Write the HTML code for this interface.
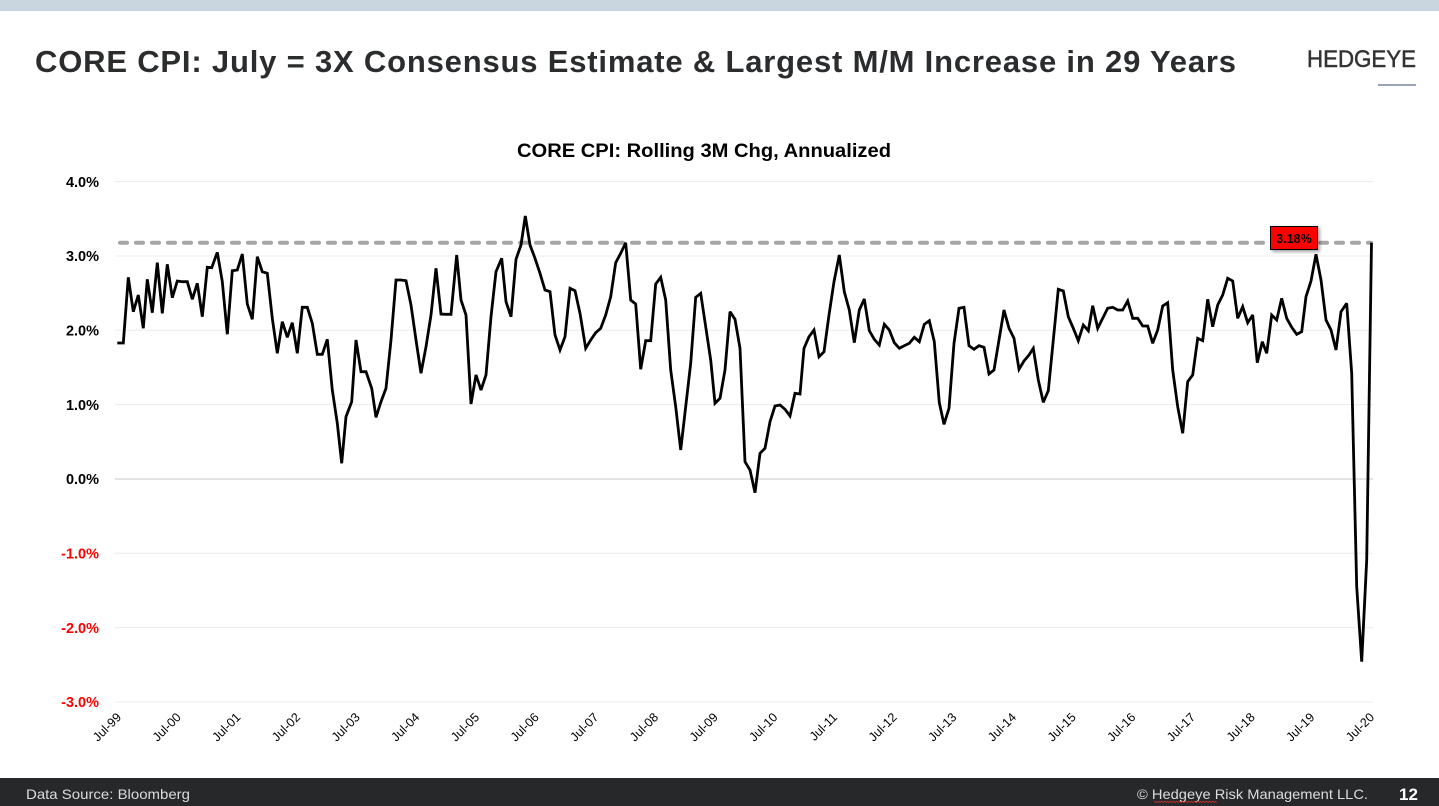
<!DOCTYPE html>
<html>
<head>
<meta charset="utf-8">
<style>
  html, body { margin:0; padding:0; background:#ffffff; }
  body { width:1439px; height:806px; overflow:hidden; }
  svg { display:block; }
</style>
</head>
<body>
<svg width="1439" height="806" viewBox="0 0 1439 806" xmlns="http://www.w3.org/2000/svg">
  <defs>
    <filter id="sh" x="-30%" y="-30%" width="160%" height="160%">
      <feDropShadow dx="2" dy="2" stdDeviation="1.5" flood-color="#000" flood-opacity="0.35"/>
    </filter>
  </defs>
  <!-- top band -->
  <rect x="0" y="0" width="1439" height="11" fill="#c9d6df"/>

  <!-- title -->
  <text x="35" y="72" font-family="Liberation Sans, sans-serif" font-weight="bold" font-size="31" fill="#2a2c2e" textLength="1201" lengthAdjust="spacing">CORE CPI: July = 3X Consensus Estimate &amp; Largest M/M Increase in 29 Years</text>

  <!-- logo -->
  <text x="1307" y="67" font-family="Liberation Sans, sans-serif" font-size="24" fill="#333" stroke="#333" stroke-width="0.5" textLength="109" lengthAdjust="spacingAndGlyphs">HEDGEYE</text>
  <rect x="1378" y="84" width="38" height="2" fill="#9aa3b8"/>

  <!-- chart title -->
  <text x="704" y="157" text-anchor="middle" font-family="Liberation Sans, sans-serif" font-weight="bold" font-size="19" fill="#000" textLength="374" lengthAdjust="spacingAndGlyphs">CORE CPI: Rolling 3M Chg, Annualized</text>

  <!-- gridlines -->
  <g stroke="#ececec" stroke-width="1">
    <line x1="115" y1="181.5" x2="1373" y2="181.5"/>
    <line x1="115" y1="256" x2="1373" y2="256"/>
    <line x1="115" y1="330.3" x2="1373" y2="330.3"/>
    <line x1="115" y1="404.6" x2="1373" y2="404.6"/>
    <line x1="115" y1="553.3" x2="1373" y2="553.3"/>
    <line x1="115" y1="627.6" x2="1373" y2="627.6"/>
    <line x1="115" y1="702" x2="1373" y2="702"/>
  </g>
  <line x1="115" y1="479" x2="1373" y2="479" stroke="#d4d4d4" stroke-width="1.2"/>

  <!-- y labels -->
  <g font-family="Liberation Sans, sans-serif" font-weight="bold" font-size="14.5" text-anchor="end">
    <text x="99" y="187" fill="#000">4.0%</text>
    <text x="99" y="261" fill="#000">3.0%</text>
    <text x="99" y="335.5" fill="#000">2.0%</text>
    <text x="99" y="410" fill="#000">1.0%</text>
    <text x="99" y="484" fill="#000">0.0%</text>
    <text x="99" y="558.5" fill="#ff0000">-1.0%</text>
    <text x="99" y="633" fill="#ff0000">-2.0%</text>
    <text x="99" y="707" fill="#ff0000">-3.0%</text>
  </g>

  <!-- x labels -->
  <g font-family="Liberation Sans, sans-serif" font-size="12.5" fill="#000" text-anchor="end">
    <text transform="translate(122,718) rotate(-45)">Jul-99</text>
    <text transform="translate(181.7,718) rotate(-45)">Jul-00</text>
    <text transform="translate(241.3,718) rotate(-45)">Jul-01</text>
    <text transform="translate(301,718) rotate(-45)">Jul-02</text>
    <text transform="translate(360.7,718) rotate(-45)">Jul-03</text>
    <text transform="translate(420.3,718) rotate(-45)">Jul-04</text>
    <text transform="translate(480,718) rotate(-45)">Jul-05</text>
    <text transform="translate(539.7,718) rotate(-45)">Jul-06</text>
    <text transform="translate(599.3,718) rotate(-45)">Jul-07</text>
    <text transform="translate(659,718) rotate(-45)">Jul-08</text>
    <text transform="translate(718.7,718) rotate(-45)">Jul-09</text>
    <text transform="translate(778.3,718) rotate(-45)">Jul-10</text>
    <text transform="translate(838,718) rotate(-45)">Jul-11</text>
    <text transform="translate(897.7,718) rotate(-45)">Jul-12</text>
    <text transform="translate(957.3,718) rotate(-45)">Jul-13</text>
    <text transform="translate(1017,718) rotate(-45)">Jul-14</text>
    <text transform="translate(1076.7,718) rotate(-45)">Jul-15</text>
    <text transform="translate(1136.3,718) rotate(-45)">Jul-16</text>
    <text transform="translate(1196,718) rotate(-45)">Jul-17</text>
    <text transform="translate(1255.7,718) rotate(-45)">Jul-18</text>
    <text transform="translate(1315.3,718) rotate(-45)">Jul-19</text>
    <text transform="translate(1375,718) rotate(-45)">Jul-20</text>
  </g>

  <!-- dashed reference line -->
  <line x1="120" y1="242.7" x2="1371" y2="242.7" stroke="#a6a6a6" stroke-width="4" stroke-dasharray="7 9" stroke-linecap="round"/>

  <!-- series -->
  <polyline fill="none" stroke="#000" stroke-width="2.8" stroke-linejoin="miter" stroke-miterlimit="3" points="
117.3,343 123.3,343 128.3,277.3 133.3,311.7 138.3,295 143.3,328.3 147.3,279.3 152.3,312.7 157.3,262.7 162.3,313.3 167.3,264.3 172.3,297.7 177.3,281 182.3,281.7 187.3,281.7 192.3,299.3 197.3,283.3 202.3,316.7 207.3,267.3 211.7,267.7 217.3,252.3 222.3,281.7 227.3,334.3 232.3,270.7 237.3,270 242.3,254 247.3,304 252.3,319.3 257.3,256.7 262.3,271.7 267.3,273.3 272.3,318.3 277.3,353.3 282.3,321.7 287.3,337.3 292.3,322.7 297.3,353.3 302.3,307.3 307.3,307.3 312.3,323.3 317.3,354.3 322.3,354.3 327.3,339.3 332.3,390 337.3,423.3 341.7,463.3
346,416.7 351.7,401.7 356,340 361,371.7 366,371.7 371.7,388.3 376,417.3 381,401.7 386,388.3 391,340 396,280 401,280 406,280.7 411,305 416,340 421,373.3 426,346.7 431,315 436,268.3 441,314 446,314.3 451,314.3 456.7,255 461,300 466,315 471,404 476,375 481,390 486,375 491,316.7 496,271.7 501.7,258.3 506,301.7 511,316.7 516,259.3 521,245 525.3,216 530,245 535,258.3 540,273.3 545,290 550,291.7 555,335 560,350 565,336.7
570,288.3 575,290.7 580,313.3 585.7,348.3 590.7,340 595.7,332.7 600.7,328.3 605.7,315 610.7,296.7 615.7,262.7 620.7,253.3 625.7,242.7 630.7,300 635.7,304 640.7,369.3 645.7,340.7 650.7,340.7 655.7,284 660.7,277.3 665.7,300 670.7,370 675.7,406.7 680.7,450 685.7,406.7 690.7,363.3 695.7,297.3 700.7,293.3 705.7,326.7 710.7,360 715,403.3 720,398.3 725,370 730,311.7 735,319.3 740,348.3 745,461.7 750,470 755,492.7 760,453.3 765,448.3 770,421.7 775,406 780,405 785,409.3 790,416 795,393.3
800,394 804,348.3 809,336.7 814,330 819,356.7 824,351.7 829,315 834,281.7 839.3,255 844.3,291.7 849.3,310 854.3,342.7 859.3,310 864.3,299 869.3,330.7 874.3,339.3 879.3,345 884.3,324.3 889.3,330 894.3,342.7 899.3,348.3 904.3,345.7 909.3,343.3 914.3,337.3 919.3,341.7 924.3,324.3 929.3,320.7 934.3,341.7 939.3,402.7 944,424.3 949,408.3 954,343.3 959,308.3 964,307.3 969,345.7 974,349.3 979,345.7 984,347.3 989,374 994,370 999,340 1004,310 1009,328.3 1014,338.3 1019,369.3 1024,361 1029,355
1033.3,348.3 1038.3,380 1043.3,402.3 1048.3,390.7 1053.3,340 1058.3,289.3 1063.3,291 1068.3,316.7 1073.3,328.3 1078.3,340.7 1083.3,325 1088.3,330.7 1092.7,305.7 1097.7,328.3 1102.7,318.3 1107.7,308.3 1112.7,307.3 1117.7,310 1122.7,310 1127.7,301 1132.7,318.3 1137.7,318.3 1142.7,326 1147.7,326 1152.7,343.3 1157.7,330 1162.7,306 1167.7,302.7 1172.7,370 1177.7,406.7 1182.7,433.3 1187.7,381.7 1192.7,375 1197.7,338.3 1202.7,340.7 1207.7,299.3 1212.7,326.7 1217.7,305 1222.7,295 1227.7,278.3 1232.7,281 1237.7,318.3 1242.7,306.7 1247.7,322.7
1252.7,315 1257.3,362.7 1262.3,341.7 1266.7,353.3 1271.7,315 1276.7,320 1281.7,298.3 1286.7,318.3 1291.7,327.3 1296.7,334.3 1301.7,331.7 1306,296.7 1311,281 1316,254.3 1321,280 1326,320 1331,330 1336,350 1341,311.7 1346.7,303.3 1351.7,373.3 1356.7,586.7 1361.7,661.7 1366.7,560 1371.5,242.7"/>

  <!-- red value label -->
  <g filter="url(#sh)">
    <rect x="1270.5" y="226.5" width="47" height="23" fill="#ff0000" stroke="#000" stroke-width="1"/>
  </g>
  <text x="1294" y="243" text-anchor="middle" font-family="Liberation Sans, sans-serif" font-weight="bold" font-size="12.5" fill="#000">3.18%</text>

  <!-- footer -->
  <rect x="0" y="778" width="1439" height="28" fill="#27282a"/>
  <text x="26" y="799" font-family="Liberation Sans, sans-serif" font-size="14" fill="#dcdcdc" textLength="164" lengthAdjust="spacingAndGlyphs">Data Source: Bloomberg</text>
  <text x="1137" y="799" font-family="Liberation Sans, sans-serif" font-size="14" fill="#dcdcdc" textLength="231" lengthAdjust="spacingAndGlyphs">© Hedgeye Risk Management LLC.</text>
  <path d="M1154,802.5 l1.5,-1.2 l1.5,1.2 l1.5,-1.2 l1.5,1.2 l1.5,-1.2 l1.5,1.2 l1.5,-1.2 l1.5,1.2 l1.5,-1.2 l1.5,1.2 l1.5,-1.2 l1.5,1.2 l1.5,-1.2 l1.5,1.2 l1.5,-1.2 l1.5,1.2 l1.5,-1.2 l1.5,1.2 l1.5,-1.2 l1.5,1.2 l1.5,-1.2 l1.5,1.2 l1.5,-1.2 l1.5,1.2 l1.5,-1.2 l1.5,1.2 l1.5,-1.2 l1.5,1.2 l1.5,-1.2 l1.5,1.2 l1.5,-1.2 l1.5,1.2 l1.5,-1.2 l1.5,1.2 l1.5,-1.2 l1.5,1.2 l1.5,-1.2 l1.5,1.2 l1.5,-1.2 l1.5,1.2 l1.5,-1.2 l1.5,1.2" fill="none" stroke="#d03030" stroke-width="0.8"/>
  <text x="1399" y="800" font-family="Liberation Sans, sans-serif" font-weight="bold" font-size="17" fill="#ffffff">12</text>
</svg>
</body>
</html>
